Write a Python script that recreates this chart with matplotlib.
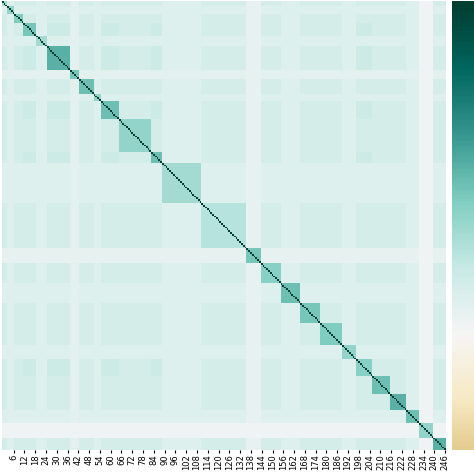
import numpy as np
import matplotlib
matplotlib.use("Agg")
import matplotlib.pyplot as plt
import seaborn as sns

n_vars = 247
# diagonal cluster edges (variable index) and within-cluster correlation
block_edges = [0, 3, 7, 12, 19, 25, 38, 43, 51, 55, 65, 83, 89, 111, 136, 144,
               155, 166, 177, 189, 197, 206, 216, 225, 232, 240, 247]
block_within = [0.3, 0.35, 0.4, 0.42, 0.3, 0.5, 0.42, 0.45, 0.35, 0.45, 0.35, 0.45,
                0.3, 0.25, 0.42, 0.38, 0.45, 0.42, 0.4, 0.35, 0.38, 0.45, 0.5, 0.45, 0.35, 0.5]
block_background = [0.15, 0.1, 0.15, 0.18, 0.1, 0.18, 0.08, 0.15, 0.1, 0.18, 0.15, 0.18,
                    0.1, 0.15, 0.06, 0.15, 0.1, 0.15, 0.15, 0.1, 0.18, 0.15, 0.15, 0.1, 0.03, 0.15]
tick_labels = list(range(6, 247, 6))

nb = len(block_within)
M = np.zeros((n_vars, n_vars))
for a in range(nb):
    for b in range(nb):
        sa = slice(block_edges[a], block_edges[a + 1])
        sb = slice(block_edges[b], block_edges[b + 1])
        if a == b:
            M[sa, sb] = block_within[a]
        else:
            M[sa, sb] = min(block_background[a], block_background[b])
np.fill_diagonal(M, 1.0)

fig = plt.figure(figsize=(4.74, 4.74), dpi=100)
ax = fig.add_axes([0.004, 0.05, 0.937, 0.948])
cax = fig.add_axes([0.953, 0.05, 0.047, 0.948])
sns.heatmap(M, cmap="BrBG", center=0, vmin=-0.35, vmax=1, ax=ax, cbar_ax=cax,
            xticklabels=False, yticklabels=False)
cax.set_yticks([])
ax.set_xticks([t + 0.5 for t in tick_labels])
ax.set_xticklabels([str(t) for t in tick_labels], rotation=90, fontsize=6)
ax.tick_params(axis="x", length=2, pad=1)
fig.savefig("out.png", dpi=100)
